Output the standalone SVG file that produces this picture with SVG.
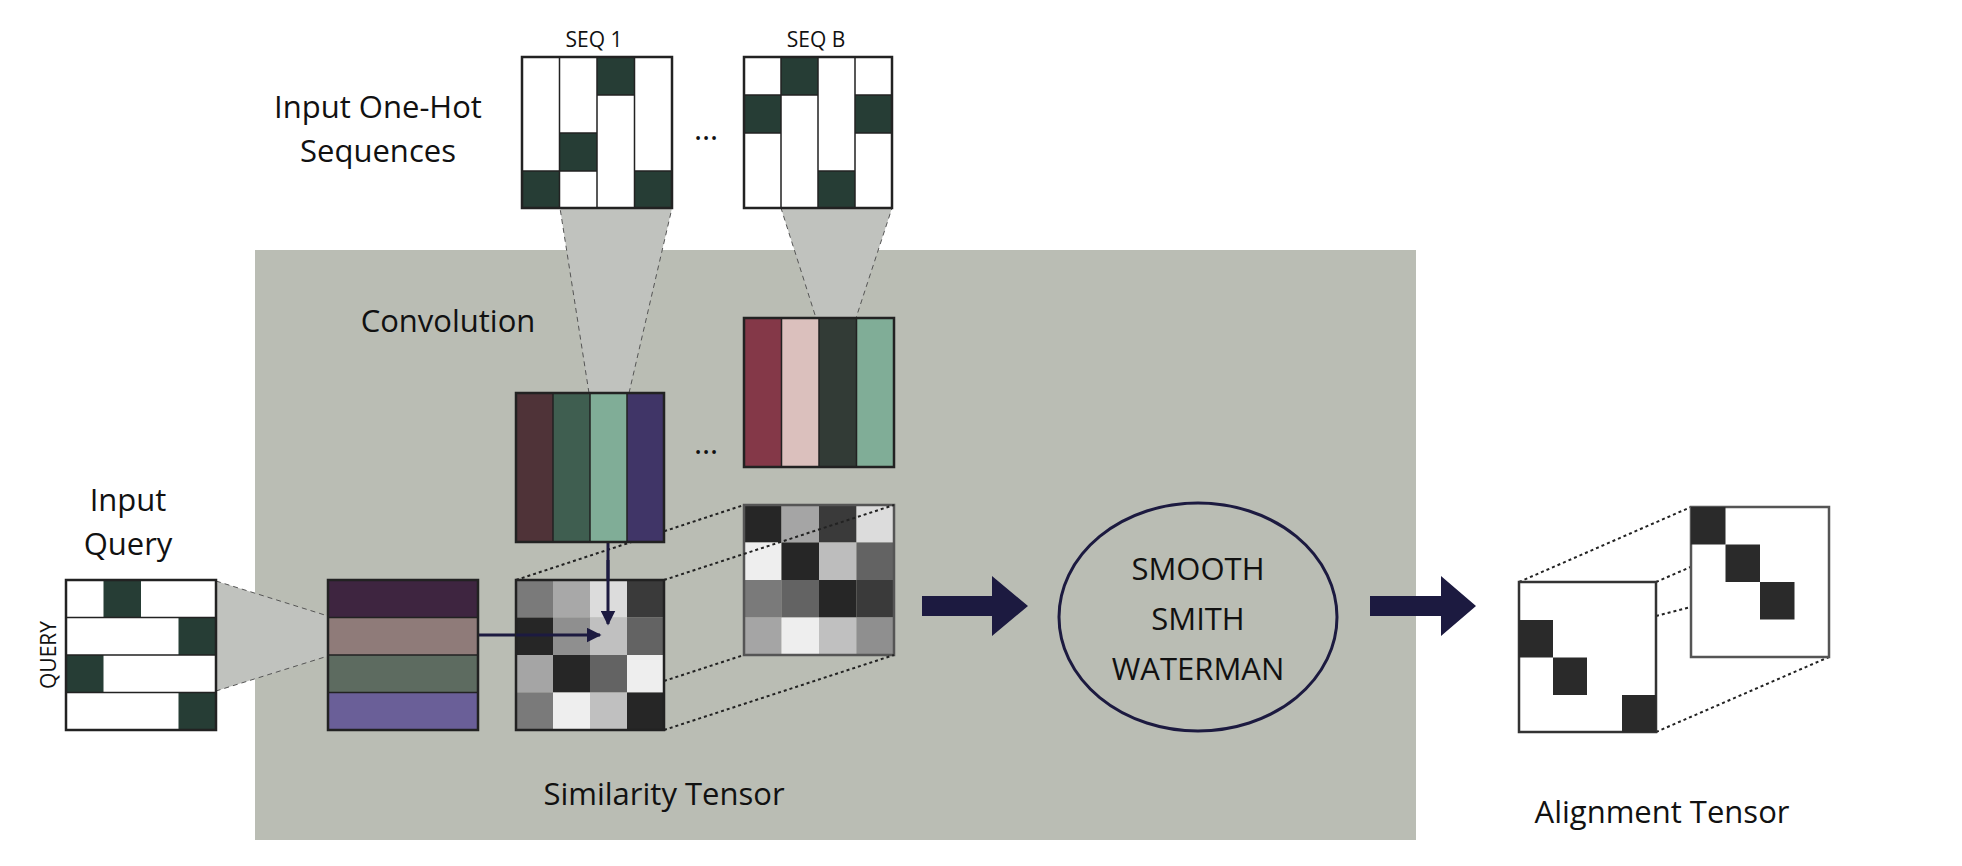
<svg xmlns="http://www.w3.org/2000/svg" width="1962" height="866" viewBox="0 0 1962 866">
<style>
text{font-family:"Open Sans","Noto Sans",sans-serif;fill:#111}
.lbl{font-size:31px;text-anchor:middle}
.sm{font-size:21px;text-anchor:middle}
.box{fill:none;stroke:#222;stroke-width:2.5}
.g{stroke:#222;stroke-width:1.5}
.dk{fill:#263d35}
.w{fill:#fff}
.dot{stroke:#222;stroke-width:2;stroke-dasharray:3 3;fill:none}
.fun{fill:#c0c2be;stroke:#555;stroke-width:1;stroke-dasharray:5 4}
.ar{stroke:#1c1a40;stroke-width:3;fill:none}
.big{fill:#1c1a40}
.ad{fill:#2a2a2a}
</style>
<defs>
<marker id="ah" viewBox="0 0 10 10" refX="9" refY="5" markerWidth="5" markerHeight="5" orient="auto"><path d="M0,0L10,5L0,10z" fill="#1c1a40"/></marker>
</defs>
<rect id="panel" x="255" y="250" width="1161" height="590" fill="#babdb4"/>

<g id="funnels">
<polygon class="fun" points="560,208 672,208 629,393 589,393"/>
<polygon class="fun" points="781,208 892,208 856,318 816,318"/>
<polygon class="fun" points="216,581 328,616 328,656 216,691"/>
</g>

<g id="labels">
<text class="lbl" x="378" y="118">Input One-Hot</text>
<text class="lbl" x="378" y="162">Sequences</text>
<text class="lbl" x="448" y="332">Convolution</text>
<text class="lbl" x="128" y="511">Input</text>
<text class="lbl" x="128" y="555">Query</text>
<text class="sm" transform="translate(56,655) rotate(-90)">QUERY</text>
<text class="lbl" x="664" y="805">Similarity Tensor</text>
<text class="lbl" x="1662" y="823">Alignment Tensor</text>
<text class="sm" x="594" y="47">SEQ 1</text>
<text class="sm" x="816" y="47">SEQ B</text>
<text class="lbl" x="706" y="140">…</text>
<text class="lbl" x="706" y="454">…</text>
</g>

<g id="seq1">
<rect class="w" x="522" y="57" width="150" height="151"/>
<rect class="dk" x="522" y="171" width="37.5" height="37"/>
<rect class="dk" x="559.5" y="133" width="37.5" height="38"/>
<rect class="dk" x="597" y="57" width="37.5" height="38"/>
<rect class="dk" x="634.5" y="171" width="37.5" height="37"/>
<path class="g" d="M559.5,57V208M597,57V208M634.5,57V208M522,171H559.5M559.5,133H597M559.5,171H597M597,95H634.5M634.5,171H672"/>
<rect class="box" x="522" y="57" width="150" height="151"/>
</g>
<g id="seqB">
<rect class="w" x="744" y="57" width="148" height="151"/>
<rect class="dk" x="744" y="95" width="37" height="38"/>
<rect class="dk" x="781" y="57" width="37" height="38"/>
<rect class="dk" x="818" y="171" width="37" height="37"/>
<rect class="dk" x="855" y="95" width="37" height="38"/>
<path class="g" d="M781,57V208M818,57V208M855,57V208M744,95H781M744,133H781M781,95H818M818,171H855M855,95H892M855,133H892"/>
<rect class="box" x="744" y="57" width="148" height="151"/>
</g>

<g id="convB">
<rect x="744" y="318" width="37.5" height="149" fill="#843848"/>
<rect x="781.5" y="318" width="37.5" height="149" fill="#dbc0bd"/>
<rect x="819" y="318" width="37.5" height="149" fill="#323b36"/>
<rect x="856.5" y="318" width="37.5" height="149" fill="#80ad97"/>
<path class="g" d="M781.5,318V467M819,318V467M856.5,318V467"/>
<rect class="box" x="744" y="318" width="150" height="149"/>
</g>

<g id="simBack">
<rect x="744" y="505" width="37.5" height="37.5" fill="#262626"/><rect x="781.5" y="505" width="37.5" height="37.5" fill="#a5a5a5"/><rect x="819" y="505" width="37.5" height="37.5" fill="#3a3a3a"/><rect x="856.5" y="505" width="37.5" height="37.5" fill="#dcdcdc"/>
<rect x="744" y="542.5" width="37.5" height="37.5" fill="#eeeeee"/><rect x="781.5" y="542.5" width="37.5" height="37.5" fill="#262626"/><rect x="819" y="542.5" width="37.5" height="37.5" fill="#bdbdbd"/><rect x="856.5" y="542.5" width="37.5" height="37.5" fill="#636363"/>
<rect x="744" y="580" width="37.5" height="37.5" fill="#7a7a7a"/><rect x="781.5" y="580" width="37.5" height="37.5" fill="#636363"/><rect x="819" y="580" width="37.5" height="37.5" fill="#262626"/><rect x="856.5" y="580" width="37.5" height="37.5" fill="#3a3a3a"/>
<rect x="744" y="617.5" width="37.5" height="37.5" fill="#a5a5a5"/><rect x="781.5" y="617.5" width="37.5" height="37.5" fill="#eeeeee"/><rect x="819" y="617.5" width="37.5" height="37.5" fill="#c0c0c0"/><rect x="856.5" y="617.5" width="37.5" height="37.5" fill="#8f8f8f"/>
<rect x="744" y="505" width="150" height="150" fill="none" stroke="#555" stroke-width="2.5"/>
</g>

<g id="connectors">
<path class="dot" d="M516,580L744,505M664,580L894,505M664,730L894,655M664,681L744,655"/>
<path class="dot" d="M1519,582L1691,507M1656,582L1829,507M1656,732L1829,657M1656,616L1691,607"/>
<path class="ar" d="M608,528V624" marker-end="url(#ah)"/>
<path class="ar" d="M461,635H600" marker-end="url(#ah)"/>
<polygon class="big" points="922,596 992,596 992,576 1028,606 992,636 992,616 922,616"/>
<polygon class="big" points="1370,596 1441,596 1441,576 1476,606 1441,636 1441,616 1370,616"/>
</g>

<g id="conv1">
<rect x="516" y="393" width="37" height="149" fill="#4f3338"/>
<rect x="553" y="393" width="37" height="149" fill="#3f5e50"/>
<rect x="590" y="393" width="37" height="149" fill="#80ad97"/>
<rect x="627" y="393" width="37" height="149" fill="#403567"/>
<path class="g" d="M553,393V542M590,393V542M627,393V542"/>
<rect class="box" x="516" y="393" width="148" height="149"/>
</g>

<g id="query">
<rect class="w" x="66" y="580" width="150" height="150"/>
<rect class="dk" x="103.5" y="580" width="37.5" height="37.5"/>
<rect class="dk" x="178.5" y="617.5" width="37.5" height="37.5"/>
<rect class="dk" x="66" y="655" width="37.5" height="37.5"/>
<rect class="dk" x="178.5" y="692.5" width="37.5" height="37.5"/>
<path class="g" d="M66,617.5H216M66,655H216M66,692.5H216"/>
<rect class="box" x="66" y="580" width="150" height="150"/>
</g>

<g id="embedding">
<rect x="328" y="580" width="150" height="37.5" fill="#3e2540"/>
<rect x="328" y="617.5" width="150" height="37.5" fill="#8f7b79"/>
<rect x="328" y="655" width="150" height="37.5" fill="#5d6b60"/>
<rect x="328" y="692.5" width="150" height="37.5" fill="#6a5f98"/>
<path class="g" d="M328,617.5H478M328,655H478M328,692.5H478"/>
<rect class="box" x="328" y="580" width="150" height="150"/>
</g>

<g id="simFront">
<rect x="516" y="580" width="37" height="37.5" fill="#7a7a7a"/><rect x="553" y="580" width="37" height="37.5" fill="#a8a8a8"/><rect x="590" y="580" width="37" height="37.5" fill="#dcdcdc"/><rect x="627" y="580" width="37" height="37.5" fill="#3a3a3a"/>
<rect x="516" y="617.5" width="37" height="37.5" fill="#262626"/><rect x="553" y="617.5" width="37" height="37.5" fill="#8f8f8f"/><rect x="590" y="617.5" width="37" height="37.5" fill="#c0c0c0"/><rect x="627" y="617.5" width="37" height="37.5" fill="#636363"/>
<rect x="516" y="655" width="37" height="37.5" fill="#a5a5a5"/><rect x="553" y="655" width="37" height="37.5" fill="#262626"/><rect x="590" y="655" width="37" height="37.5" fill="#636363"/><rect x="627" y="655" width="37" height="37.5" fill="#eeeeee"/>
<rect x="516" y="692.5" width="37" height="37.5" fill="#7a7a7a"/><rect x="553" y="692.5" width="37" height="37.5" fill="#eeeeee"/><rect x="590" y="692.5" width="37" height="37.5" fill="#c0c0c0"/><rect x="627" y="692.5" width="37" height="37.5" fill="#262626"/>
<rect class="box" x="516" y="580" width="148" height="150"/>
</g>

<g id="arrowsOver">
<path class="ar" d="M608,560V624" marker-end="url(#ah)"/>
<path class="ar" d="M516,635H600" marker-end="url(#ah)"/>
</g>

<g id="sw">
<ellipse cx="1198" cy="617" rx="139" ry="114" fill="none" stroke="#1c1a40" stroke-width="3"/>
<text class="lbl" x="1198" y="580" font-size="34">SMOOTH</text>
<text class="lbl" x="1198" y="630" font-size="34">SMITH</text>
<text class="lbl" x="1198" y="680" font-size="34">WATERMAN</text>
</g>

<g id="alignBack">
<rect x="1691" y="507" width="138" height="150" fill="#fff" stroke="#555" stroke-width="2.5"/>
<rect class="ad" x="1691" y="507" width="34.5" height="37.5"/>
<rect class="ad" x="1725.5" y="544.5" width="34.5" height="37.5"/>
<rect class="ad" x="1760" y="582" width="34.5" height="37.5"/>
</g>
<g id="alignFront">
<rect x="1519" y="582" width="137" height="150" fill="#fff" stroke="#333" stroke-width="2.5"/>
<rect class="ad" x="1519" y="620" width="34" height="37.5"/>
<rect class="ad" x="1553" y="657.5" width="34" height="37.5"/>
<rect class="ad" x="1622" y="695" width="34" height="37"/>
</g>
</svg>
